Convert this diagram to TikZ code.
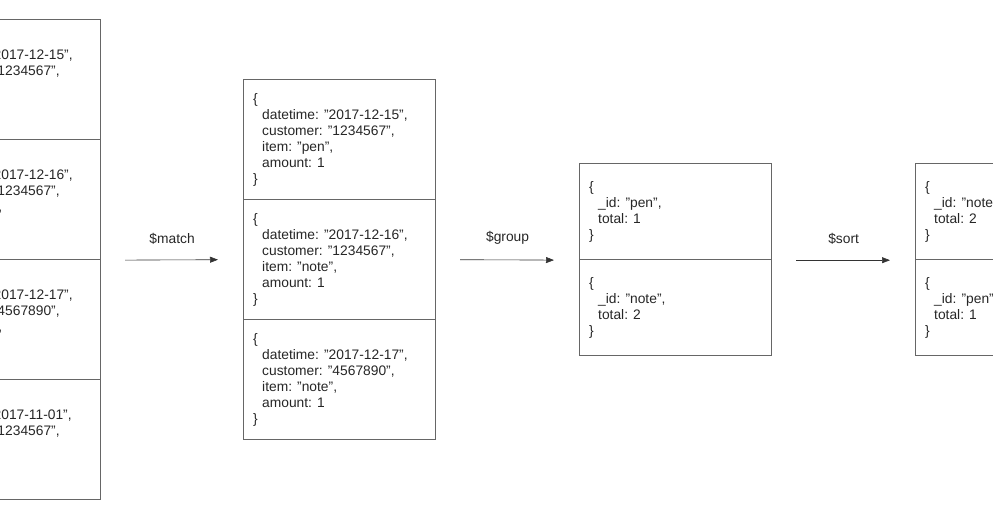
\documentclass[tikz,border=0pt]{standalone}
\usepackage{fontspec}
\setmainfont{Liberation Sans}
\usetikzlibrary{arrows.meta}
\begin{document}
\begin{tikzpicture}[x=1pt,y=-1pt,
  box/.style={draw=black!60,line width=1.2pt,minimum width=192pt,inner sep=0pt,anchor=north west},
  txt/.style={anchor=west,align=left,inner sep=0pt,font=\fontsize{13.8}{16}\selectfont,text=black!85},
  arr/.style={-{Triangle[length=8pt,width=6pt]},line width=0.6pt,black!80},
  lbl/.style={font=\fontsize{13.8}{16}\selectfont,text=black!85}]
\useasboundingbox (0,0) rectangle (993,521);
\clip (0,0) rectangle (993,521);
\newcommand\ind{\hspace*{9pt}}
% column 1
\foreach \i/\d/\c/\it in {0/2017-12-15/1234567/pen,1/2017-12-16/1234567/note,2/2017-12-17/4567890/note,3/2017-11-01/1234567/pen}{
  \node[box,minimum height=120pt] (a\i) at (-92,19+120*\i) {};
  \node[txt] at (-82,80+120*\i) {\{\\\ind datetime: "\d",\\\ind customer: "\c",\\\ind item: "\it",\\\ind amount: 1\\\}};
}
% column 2
\foreach \i/\d/\c/\it in {0/2017-12-15/1234567/pen,1/2017-12-16/1234567/note,2/2017-12-17/4567890/note}{
  \node[box,minimum height=120pt] (b\i) at (243,79+120*\i) {};
  \node[txt] at (253,140+120*\i) {\{\\\ind datetime: "\d",\\\ind customer: "\c",\\\ind item: "\it",\\\ind amount: 1\\\}};
}
% column 3
\foreach \i/\k/\t in {0/pen/1,1/note/2}{
  \node[box,minimum height=96pt] (c\i) at (579,163+96*\i) {};
  \node[txt] at (589,212+96*\i) {\{\\\ind \_id: "\k",\\\ind total: \t\\\}};
}
% column 4
\foreach \i/\k/\t in {0/note/2,1/pen/1}{
  \node[box,minimum height=96pt] (d\i) at (915,163+96*\i) {};
  \node[txt] at (925,212+96*\i) {\{\\\ind \_id: "\k",\\\ind total: \t\\\}};
}
\coordinate (a) at (a1.south east);
\coordinate (b) at (b1.west);
\coordinate (bb) at (b1.east);
\coordinate (c) at (c0.south west);
\coordinate (cc) at (c0.south east);
\coordinate (d) at (d0.south west);
\draw[arr,shorten <=24pt,shorten >=25pt] (a) -- (b) node[lbl,midway,above=12pt] {\$match};
\draw[arr,shorten <=24pt,shorten >=25pt] (bb) -- (c) node[lbl,midway,above=12pt] {\$group};
\draw[arr,shorten <=24pt,shorten >=25pt] (cc) -- (d) node[lbl,midway,above=12pt] {\$sort};
\end{tikzpicture}
\end{document}
